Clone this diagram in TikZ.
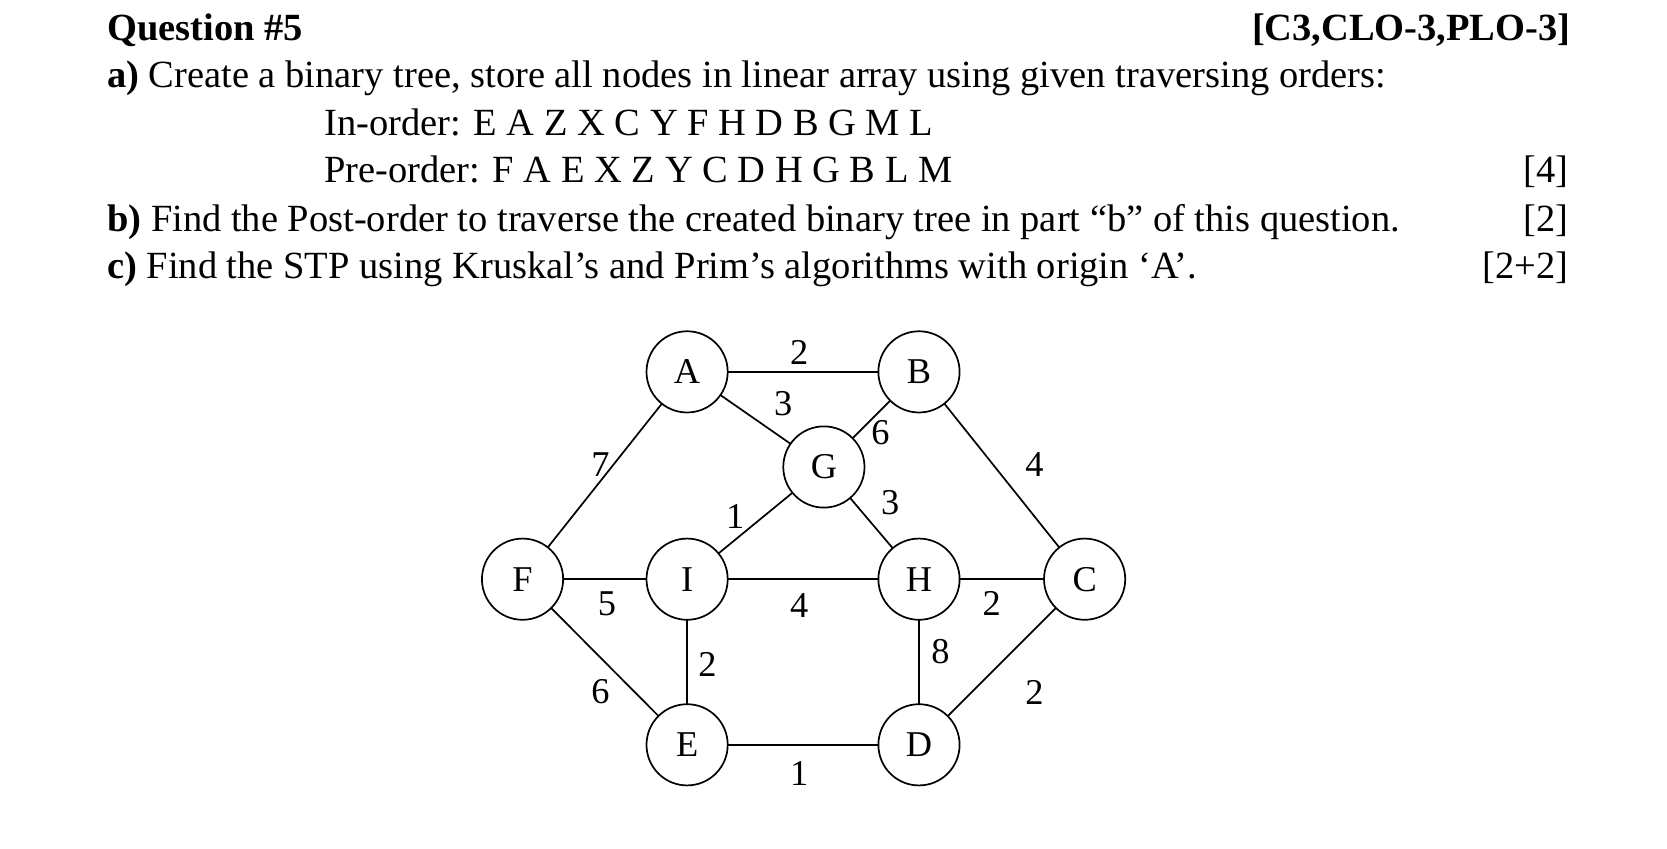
\documentclass[tikz,border=0pt]{standalone}
\usepackage{fontspec}
\setmainfont{Liberation Serif}
\begin{document}
\begin{tikzpicture}[x=0.5pt,y=-0.5pt,
  vtx/.style={circle,draw,line width=0.8pt,minimum size=38pt,inner sep=0pt,font=\fontsize{17}{20}\selectfont,fill=white},
  edge/.style={line width=0.8pt},
  wt/.style={font=\fontsize{17}{20}\selectfont,inner sep=0pt},
  txt/.style={font=\fontsize{18}{22}\selectfont,inner sep=0pt,anchor=base west}]
\useasboundingbox (0,0) rectangle (1560,794);
\node[txt] (q) at (100,38) {\textbf{Question \#5}};
\node[txt,anchor=base east] (c3) at (1470,38) {\textbf{[C3,CLO-3,PLO-3]}};
\node[txt] (la) at (100,82) {\textbf{a)} Create a binary tree, store all nodes in linear array using given traversing orders:};
\node[txt] (in) at (303,127) {In-order: E A Z X C Y F H D B G M L};
\node[txt] (pre) at (303,171) {Pre-order: F A E X Z Y C D H G B L M};
\node[txt,anchor=base east] (m4) at (1468,171) {[4]};
\node[txt] (lb) at (100,217) {\textbf{b)} Find the Post-order to traverse the created binary tree in part “b” of this question.};
\node[txt,anchor=base east] (m2) at (1468,217) {[2]};
\node[txt] (lc) at (100,261) {\textbf{c)} Find the STP using Kruskal’s and Prim’s algorithms with origin ‘A’.};
\node[txt,anchor=base east] (m22) at (1468,261) {[2+2]};

\coordinate (pA) at (643,348);
\draw[edge] (pA) -- (860,348);
\draw[edge] (pA) -- (771,437);
\draw[edge] (860,348) -- (771,437);
\draw[edge] (pA) -- (489,542);
\draw[edge] (771,437) -- (643,542);
\draw[edge] (771,437) -- (860,542);
\draw[edge] (860,348) -- (1015,542);
\draw[edge] (489,542) -- (1015,542);
\draw[edge] (643,542) -- (643,697);
\draw[edge] (860,542) -- (860,697);
\draw[edge] (489,542) -- (643,697);
\draw[edge] (643,697) -- (860,697);
\draw[edge] (1015,542) -- (860,697);

\node[vtx] (A) at (643,348) {A};
\node[vtx] (B) at (860,348) {B};
\node[vtx] (G) at (771,437) {G};
\node[vtx] (F) at (489,542) {F};
\node[vtx] (I) at (643,542) {I};
\node[vtx] (H) at (860,542) {H};
\node[vtx] (C) at (1015,542) {C};
\node[vtx] (E) at (643,697) {E};
\node[vtx] (D) at (860,697) {D};

\node[wt] (w1) at (748,330) {2};
\node[wt] (w2) at (733,378) {3};
\node[wt] (w3) at (824,405) {6};
\node[wt] (w4) at (562,435) {7};
\node[wt] (w5) at (688,483) {1};
\node[wt] (w6) at (833,470) {3};
\node[wt] (w7) at (968,435) {4};
\node[wt] (w8) at (568,565) {5};
\node[wt] (w9) at (748,567) {4};
\node[wt] (w10) at (928,565) {2};
\node[wt] (w11) at (662,622) {2};
\node[wt] (w12) at (880,610) {8};
\node[wt] (w13) at (562,647) {6};
\node[wt] (w14) at (748,724) {1};
\node[wt] (w15) at (968,648) {2};
\end{tikzpicture}
\end{document}
